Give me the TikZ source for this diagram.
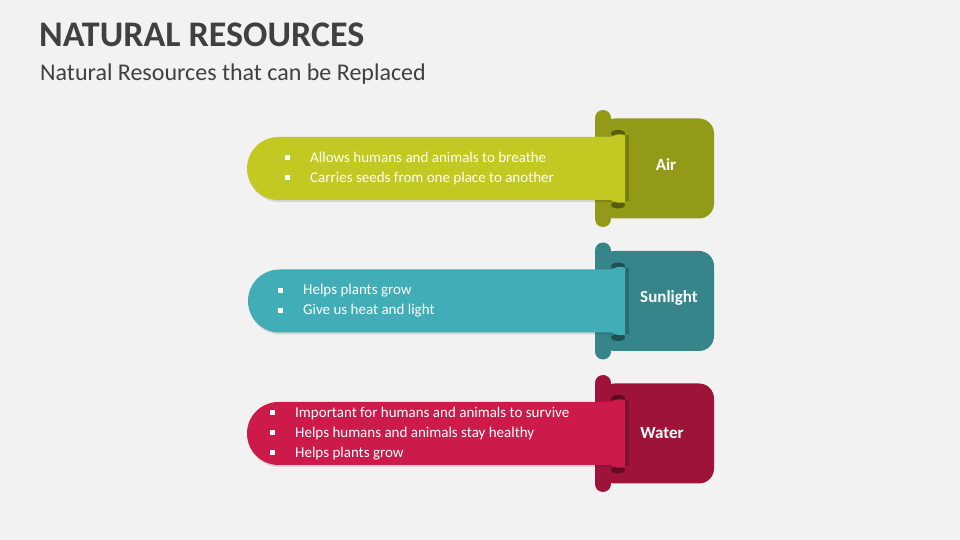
\documentclass[tikz,border=0pt]{standalone}
\usepackage{fontspec}
\setmainfont{Carlito}
\usetikzlibrary{shapes.misc, positioning}

\definecolor{bggray}{HTML}{F2F2F2}
\definecolor{titlegray}{HTML}{404040}
\definecolor{airlight}{HTML}{C2C922}
\definecolor{airdark}{HTML}{939A18}
\definecolor{sunlight}{HTML}{41AEB7}
\definecolor{sundark}{HTML}{35858B}
\definecolor{waterlight}{HTML}{CC1B4B}
\definecolor{waterdark}{HTML}{9E1438}

\tikzset{
  band/.style={rounded rectangle, rounded rectangle right arc=none, minimum width=364pt, minimum height=63pt, inner sep=0pt},
  tab/.style={rectangle, rounded corners=8pt, minimum width=16pt, minimum height=117pt, inner sep=0pt},
  resbox/.style={rectangle, rounded corners=15pt, minimum width=114pt, minimum height=100pt, inner sep=0pt},
  resname/.style={text=white, font=\fontsize{17}{20}\selectfont\bfseries, inner sep=0pt},
  facts/.style={text=white, font=\fontsize{15}{20}\selectfont, anchor=west, inner sep=0pt},
  bandshadow/.style={band, fill=black, opacity=0.12}
}
\newcommand{\sq}{\raisebox{2.4pt}{\rule{5pt}{5pt}}}

\begin{document}
\begin{tikzpicture}[x=1pt, y=1pt]
  \fill[bggray] (0,0) rectangle (960,540);
  \node[anchor=base west, inner sep=0pt, text=titlegray, font=\fontsize{36}{40}\selectfont\bfseries] (title) at (39,493.5) {NATURAL RESOURCES};
  \node[anchor=base west, inner sep=0pt, text=titlegray, font=\fontsize{24}{28}\selectfont] (subtitle) at (40,459) {Natural Resources that can be Replaced};

  % air
  \node[tab, fill=airdark] (airtab) at (603,371.5) {};
  \node[resbox, fill=airdark] (air) at (657,371.5) {};
  \node[bandshadow] (airshadow) at (430,369.5) {};
  \node[band, fill=airlight] (airband) at (429,371.5) {};
  \fill[airdark!60!black] (618,406.5) ellipse [x radius=7pt, y radius=3.5pt];
  \fill[airdark!60!black] (618,335) ellipse [x radius=7pt, y radius=3.5pt];
  \fill[airdark!80!black] (622,404.5) rectangle (629,338.5);
  \fill[airlight] (airband.north east) .. controls +(5,3) and +(-3,2) .. (625,404.5) -- (625,338.5) .. controls +(-3,-2) and +(5,-3) .. (airband.south east) -- cycle;
  \node[resname] (airname) at (666,375) {Air};
  \node[facts] (airfacts) at (285,371.5) {\begin{tabular}{@{}l@{\hspace{20pt}}l@{}}
    \sq & Allows humans and animals to breathe\\
    \sq & Carries seeds from one place to another
  \end{tabular}};

  % sunlight
  \node[tab, fill=sundark] (suntab) at (603,239) {};
  \node[resbox, fill=sundark] (sun) at (657,239) {};
  \node[bandshadow] (sunshadow) at (431,237) {};
  \node[band, fill=sunlight] (sunband) at (430,239) {};
  \fill[sundark!60!black] (618,274) ellipse [x radius=7pt, y radius=3.5pt];
  \fill[sundark!60!black] (618,202.5) ellipse [x radius=7pt, y radius=3.5pt];
  \fill[sundark!80!black] (622,272) rectangle (629,206);
  \fill[sunlight] (sunband.north east) .. controls +(5,3) and +(-3,2) .. (625,272) -- (625,206) .. controls +(-3,-2) and +(5,-3) .. (sunband.south east) -- cycle;
  \node[resname] (sunname) at (669,242) {Sunlight};
  \node[facts] (sunfacts) at (278,239) {\begin{tabular}{@{}l@{\hspace{20pt}}l@{}}
    \sq & Helps plants grow\\
    \sq & Give us heat and light
  \end{tabular}};

  % water
  \node[tab, fill=waterdark] (watertab) at (603,106.5) {};
  \node[resbox, fill=waterdark] (water) at (657,106.5) {};
  \node[bandshadow] (watershadow) at (430,104.5) {};
  \node[band, fill=waterlight] (waterband) at (429,106.5) {};
  \fill[waterdark!60!black] (618,141.5) ellipse [x radius=7pt, y radius=3.5pt];
  \fill[waterdark!60!black] (618,70) ellipse [x radius=7pt, y radius=3.5pt];
  \fill[waterdark!80!black] (622,139.5) rectangle (629,73.5);
  \fill[waterlight] (waterband.north east) .. controls +(5,3) and +(-3,2) .. (625,139.5) -- (625,73.5) .. controls +(-3,-2) and +(5,-3) .. (waterband.south east) -- cycle;
  \node[resname] (watername) at (662,107) {Water};
  \node[facts] (waterfacts) at (270,106.5) {\begin{tabular}{@{}l@{\hspace{20pt}}l@{}}
    \sq & Important for humans and animals to survive\\
    \sq & Helps humans and animals stay healthy\\
    \sq & Helps plants grow
  \end{tabular}};
\end{tikzpicture}
\end{document}
